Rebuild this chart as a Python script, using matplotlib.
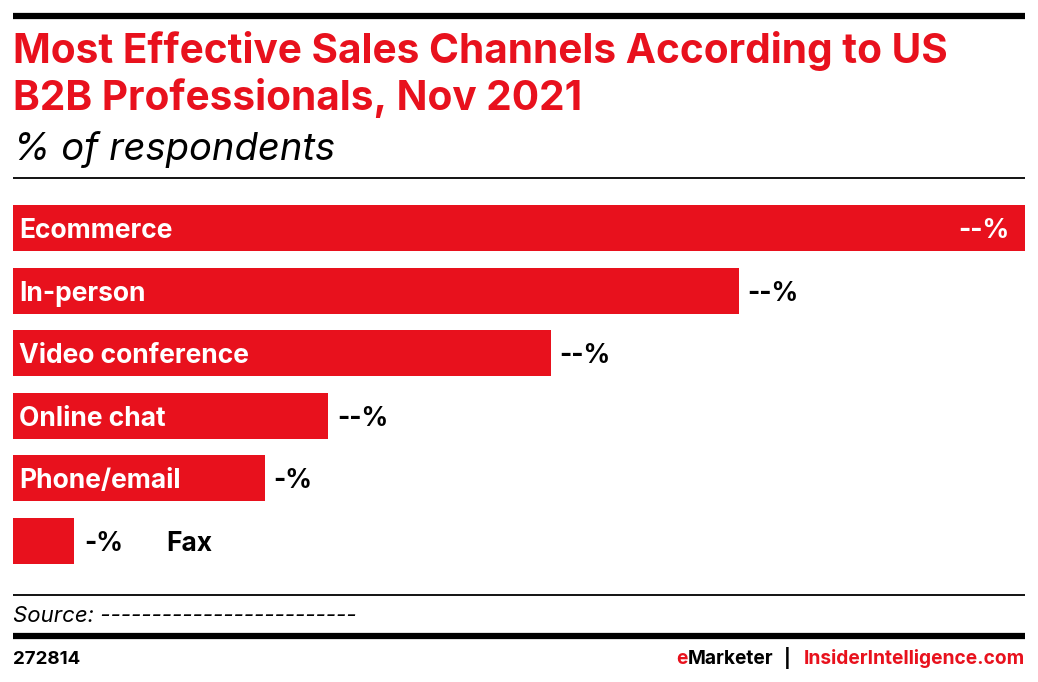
import matplotlib.pyplot as plt

plt.rcParams['font.family'] = ['Inter', 'DejaVu Sans']

channels = ['Ecommerce', 'In-person', 'Video conference', 'Online chat', 'Phone/email', 'Fax']
values = [35.0, 25.1, 18.6, 10.9, 8.7, 2.1]
value_labels = ['--%', '--%', '--%', '--%', '-%', '-%']

RED = '#E8111D'
W, H = 1038, 682

fig = plt.figure(figsize=(W / 100, H / 100), dpi=100)

def fx(px):
    return px / W

def fy(py):
    return 1 - py / H

# rules
def hline(y, lw):
    fig.add_artist(plt.Line2D([fx(13), fx(1025)], [fy(y), fy(y)], color='black', lw=lw,
                              solid_capstyle='butt'))

hline(15.5, 4.5)
hline(178, 1.3)
hline(595, 1.3)
hline(636, 4.5)

fig.text(fx(13), fy(63), 'Most Effective Sales Channels According to US', color=RED,
         fontsize=29.2, fontweight='bold', va='baseline')
fig.text(fx(13), fy(110), 'B2B Professionals, Nov 2021', color=RED,
         fontsize=29.2, fontweight='bold', va='baseline')
fig.text(fx(13), fy(160), '% of respondents', fontsize=27.5, fontstyle='italic', va='baseline')

fig.text(fx(13), fy(622), 'Source: -------------------------', fontsize=16,
         fontstyle='italic', va='baseline')
fig.text(fx(13), fy(664), '272814', fontsize=13.5, fontweight='bold', va='baseline')

# footer brand, built right to left
fig.canvas.draw()
r = fig.canvas.get_renderer()
t1 = fig.text(fx(1025), fy(664), 'InsiderIntelligence.com', fontsize=13.8, fontweight='bold',
              color=RED, ha='right', va='baseline')
x0 = t1.get_window_extent(r).x0
t2 = fig.text((x0 - 13) / W, fy(665), '|', fontsize=13, fontweight='bold', color='black',
              ha='right', va='baseline')
x0 = t2.get_window_extent(r).x0
t3 = fig.text((x0 - 11) / W, fy(664), 'Marketer', fontsize=13.8, fontweight='bold',
              color='black', ha='right', va='baseline')
x0 = t3.get_window_extent(r).x0
fig.text(x0 / W, fy(664), 'e', fontsize=13.8, fontweight='bold', color=RED,
         ha='right', va='baseline')

# bars
bh = 46 / 62.6
ax = fig.add_axes([fx(13), fy(564), fx(1012), (564 - 205) / H])
ypos = list(range(len(channels)))
ax.barh(ypos, values, height=bh, color=RED)
ax.set_xlim(0, max(values))
ax.set_ylim(len(channels) - 1 + bh / 2, -bh / 2)
ax.axis('off')

dy = 0.16
for i, (name, v, lab) in enumerate(zip(channels, values, value_labels)):
    yb = i + dy
    if i == 0:
        ax.text(v - 0.55, yb, lab, color='white', fontsize=19, fontweight='bold',
                ha='right', va='baseline')
        ax.text(0.22, yb, name, color='white', fontsize=19, fontweight='bold', va='baseline')
    elif v > 5:
        ax.text(0.22, yb, name, color='white', fontsize=19, fontweight='bold', va='baseline')
        ax.text(v + 0.3, yb, lab, color='black', fontsize=19, fontweight='bold', va='baseline')
    else:
        ax.text(v + 0.35, yb, lab, color='black', fontsize=19, fontweight='bold', va='baseline')
        ax.text(v + 3.2, yb, name, color='black', fontsize=19, fontweight='bold', va='baseline')

fig.savefig('out.png', dpi=100)
